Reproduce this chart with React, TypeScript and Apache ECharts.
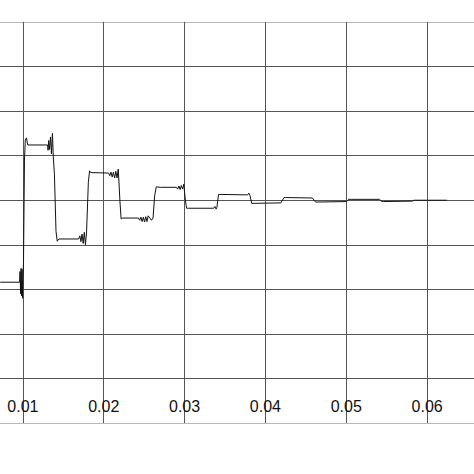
import React, { useEffect, useRef } from "react";
import * as echarts from "echarts";

// time (s)
const times: number[] = [
  0.0072, 0.0096, 0.00965, 0.00972, 0.00978, 0.00985, 0.0099, 0.00996, 0.01002, 0.01008,
  0.0102, 0.0103, 0.01045, 0.0106, 0.01305,
  0.01312, 0.01320, 0.01330, 0.01342, 0.01354, 0.01366, 0.01376,
  0.0139, 0.0141, 0.01425, 0.01445,
  0.0169,
  0.01705, 0.01718, 0.01732, 0.01746, 0.0176, 0.01774, 0.01788,
  0.0181, 0.01825, 0.0184, 0.0206,
  0.02075, 0.0209, 0.02105, 0.0212, 0.02135, 0.0215, 0.02165, 0.0218,
  0.022, 0.02215, 0.02235, 0.0243,
  0.02445, 0.0246, 0.02475, 0.0249, 0.02505, 0.0252, 0.02535, 0.0255, 0.0259,
  0.0261, 0.0263, 0.0265, 0.027, 0.029,
  0.02915, 0.0293, 0.02945, 0.0296, 0.02975, 0.0299,
  0.0301, 0.03025, 0.0305, 0.0336,
  0.03375, 0.0339, 0.034,
  0.0342, 0.0345, 0.0378,
  0.03795, 0.0381,
  0.0383, 0.0386, 0.0419,
  0.0423, 0.0425, 0.0458,
  0.0462, 0.0465, 0.05,
  0.0503, 0.0506, 0.0541,
  0.0544, 0.0546, 0.0582,
  0.05835, 0.0586, 0.06245,
];

// signal value
const values: number[] = [
  3.16, 3.16, 3.4, 2.9, 3.47, 2.85, 3.45, 2.8, 3.3, 3.6,
  5.9, 6.35, 6.4, 6.24, 6.24,
  6.12, 6.34, 6.14, 6.42, 6.04, 6.5, 5.98,
  5.6, 4.3, 4.08, 4.13,
  4.13,
  4.2, 4.07, 4.24, 4.03, 4.28, 4.0, 4.29,
  5.4, 5.66, 5.62, 5.61,
  5.55, 5.63, 5.52, 5.63, 5.5, 5.65, 5.5, 5.7,
  5.0, 4.58, 4.6, 4.6,
  4.55, 4.62, 4.52, 4.62, 4.51, 4.63, 4.52, 4.65, 4.55,
  4.6, 5.1, 5.3, 5.29, 5.29,
  5.25, 5.32, 5.24, 5.33, 5.25, 5.36,
  5.0, 4.82, 4.82, 4.82,
  4.86, 4.8, 4.84,
  5.13, 5.13, 5.12,
  5.16, 5.1,
  4.93, 4.93, 4.94,
  5.06, 5.06, 5.05,
  4.96, 4.96, 4.97,
  5.02, 5.02, 5.02,
  4.97, 4.97, 4.98,
  5.0, 5.0, 5.0,
];

const xTickStep = 0.01;
const yTickStep = 1;

export default function App() {
  const ref = useRef<HTMLDivElement>(null);
  useEffect(() => {
    if (!ref.current) return;
    const chart = echarts.init(ref.current, undefined, { renderer: "svg" });
    const data = times.map((t, i) => [t, values[i]]);
    const ySplitColors = [
      "#b8b8b8", "#555", "#555", "#555", "#555", "#555", "#555", "#555", "#555", "#b8b8b8",
    ];
    chart.setOption({
      animation: false,
      backgroundColor: "#fff",
      grid: {
        left: 0,
        right: 0,
        top: 22,
        bottom: 51,
        containLabel: false,
        outerBoundsMode: "none",
      },
      xAxis: {
        type: "value",
        min: 0,
        max: 0.07,
        interval: xTickStep,
        axisLine: { show: false },
        axisTick: { show: false },
        axisLabel: {
          inside: true,
          margin: 9,
          fontSize: 16,
          color: "#111",
          fontFamily: "Liberation Sans, Arial, sans-serif",
          showMinLabel: false,
          showMaxLabel: false,
          formatter: (v: number) => String(+v.toFixed(2)),
        },
        splitLine: { show: true, lineStyle: { color: "#555", width: 1 } },
      },
      yAxis: {
        type: "value",
        min: 0,
        max: 9,
        interval: yTickStep,
        axisLine: { show: false },
        axisTick: { show: false },
        axisLabel: { show: false },
        splitLine: { show: true, lineStyle: { color: ySplitColors, width: 1 } },
      },
      series: [
        {
          type: "line",
          data,
          showSymbol: false,
          lineStyle: { color: "#111", width: 1 },
        },
      ],
    });
    return () => chart.dispose();
  }, []);
  return (
    <div
      ref={ref}
      style={{ position: "fixed", left: -58.5, top: 0, width: 565.6, height: 474 }}
    />
  );
}
